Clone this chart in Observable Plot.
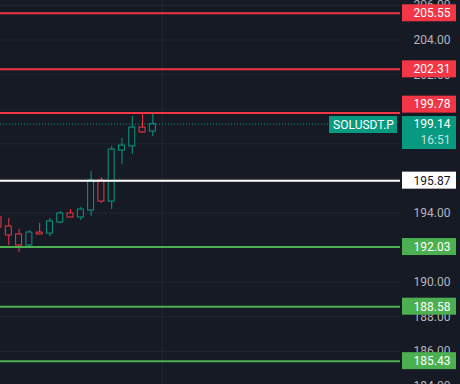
<!DOCTYPE html>
<html>
<head>
<meta charset="utf-8">
<script src="https://cdn.jsdelivr.net/npm/d3@7"></script>
<script src="https://cdn.jsdelivr.net/npm/@observablehq/plot@0.6"></script>
<style>
  html, body { margin: 0; padding: 0; background: #161a25; }
  #chart svg { display: block; }
</style>
</head>
<body>
<div id="chart"></div>
<script>
// ---- data ----
const candleIndex = [0, 1, 2, 3, 4, 5, 6, 7, 8, 9, 10, 11, 12, 13, 14, 15];
const opens  = [193.74, 193.22, 192.76, 192.12, 192.87, 192.81, 193.45, 193.97, 193.74, 194.14, 195.88, 194.66, 197.61, 197.85, 198.94, 198.71];
const highs  = [193.80, 193.68, 193.05, 192.99, 193.39, 193.68, 194.09, 194.20, 194.32, 196.40, 196.05, 197.85, 198.31, 199.58, 199.78, 199.78];
const lows   = [193.14, 192.12, 191.72, 192.00, 192.74, 192.64, 193.39, 193.74, 193.57, 193.80, 194.55, 194.20, 196.80, 197.38, 198.60, 198.42];
const closes = [193.16, 192.70, 192.12, 192.87, 192.76, 193.51, 193.97, 193.74, 194.20, 195.88, 194.66, 197.67, 197.90, 198.94, 198.66, 199.14];

const levelValues = [205.55, 202.31, 199.78, 195.87, 192.03, 188.58, 185.43];
const levelKinds  = ["resistance", "resistance", "resistance", "pivot", "support", "support", "support"];

const yGridValues = [184, 186, 188, 190, 192, 194, 196, 198, 200, 202, 204, 206];
// price-scale labels that are not fully covered by the level tags
const yTickLabels = [184, 186, 188, 190, 194, 202, 204, 206];
const timeGridValues = [15.94];

const symbolName = "SOLUSDT.P";
const lastPrice = 199.14;
const countdown = "16:51";

// ---- styles ----
const BG = "#161a25";
const UP = "#089981";
const DOWN = "#f23645";
const GRID = "#232733";
const kindColor = {resistance: "#f23645", pivot: "#ffffff", support: "#4caf50"};
const kindText = {resistance: "#ffffff", pivot: "#131722", support: "#ffffff"};
const labelShift = {199.78: -8.4};

const candles = candleIndex.map((i, k) => ({
  i, open: opens[k], high: highs[k], low: lows[k], close: closes[k],
  color: closes[k] >= opens[k] ? UP : DOWN
}));
const levels = levelValues.map((v, k) => ({v, kind: levelKinds[k]}));
const fmt = d3.format(".2f");

const labelMarks = levels.flatMap(d => {
  const s = labelShift[d.v] || 0;
  return [
    Plot.rect([d], {
      y1: "v", y2: "v",
      fill: kindColor[d.kind],
      insetLeft: 402, insetRight: -56,
      insetTop: s - 8.5, insetBottom: -(s + 8.5)
    }),
    Plot.text([d], {
      y: "v", text: e => fmt(e.v),
      frameAnchor: "right", textAnchor: "end", dx: 50, dy: s,
      fill: kindText[d.kind]
    })
  ];
});

const chart = Plot.plot({
  width: 460,
  height: 384,
  marginTop: 0, marginBottom: 0, marginLeft: 0, marginRight: 60,
  x: {domain: [0.193, 39.07], axis: null},
  y: {domain: [184.08, 206.29]},
  color: {type: "identity"},
  style: {background: BG, fontFamily: "Roboto, sans-serif", fontSize: "12px"},
  marks: [
    Plot.ruleY(yGridValues, {stroke: GRID, strokeWidth: 1}),
    Plot.ruleX(timeGridValues, {stroke: GRID, strokeWidth: 1}),
    Plot.ruleX(candles, {x: "i", y1: "low", y2: "high", stroke: "color", strokeWidth: 1, clip: true}),
    Plot.rect(candles, {
      x1: d => d.i - 0.29, x2: d => d.i + 0.29,
      y1: "open", y2: "close",
      fill: BG, stroke: "color", strokeWidth: 1, clip: true
    }),
    Plot.ruleY(levels, {y: "v", stroke: d => kindColor[d.kind], strokeWidth: 2}),
    Plot.ruleY([lastPrice], {stroke: UP, strokeWidth: 1, strokeDasharray: "1,2", insetRight: 71}),
    Plot.axisY(yTickLabels, {
      anchor: "right", tickSize: 0, tickPadding: 0, dx: 50, textAnchor: "end",
      tickFormat: fmt, fill: "#b2b5be"
    }),
    ...labelMarks,
    // current price label
    Plot.rect([lastPrice], {
      y1: d => d, y2: d => d, fill: UP,
      insetLeft: 402, insetRight: -56, insetTop: -7.6, insetBottom: -25.4
    }),
    Plot.text([lastPrice], {y: d => d, text: d => fmt(d), frameAnchor: "right", textAnchor: "end", dx: 50, fill: "#ffffff"}),
    Plot.text([lastPrice], {y: d => d, text: () => countdown, frameAnchor: "right", textAnchor: "end", dx: 50, dy: 16.5, fill: "#ffffff", fillOpacity: 0.75}),
    // symbol label
    Plot.rect([lastPrice], {
      y1: d => d, y2: d => d, fill: UP,
      insetLeft: 329, insetRight: 3, insetTop: -7.6, insetBottom: -9.4
    }),
    Plot.text([lastPrice], {y: d => d, text: () => symbolName, frameAnchor: "right", textAnchor: "middle", dx: -37, dy: 0.9, fill: "#ffffff"})
  ]
});
document.getElementById("chart").appendChild(chart);
</script>
</body>
</html>
